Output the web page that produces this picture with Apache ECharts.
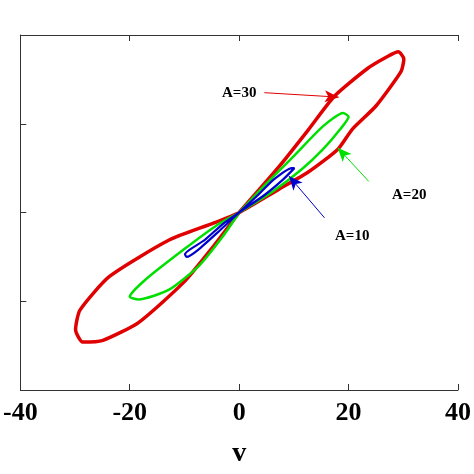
<!DOCTYPE html>
<html>
<head>
<meta charset="utf-8">
<script src="https://cdn.jsdelivr.net/npm/echarts@6/dist/echarts.min.js"></script>
<style>html,body{margin:0;padding:0;background:#fff}#main{width:474px;height:474px}</style>
</head>
<body>
<div id="main"></div>
<script>
// loop points: [v, i]
var loop30 = [[0,0],[7.2,0.51],[12.5,0.92],[17.4,1.31],[23.4,1.62],[27.2,1.76],[29.1,1.81],[30.1,1.73],[29.6,1.59],[25.0,1.20],[20.7,0.94],[18.0,0.71],[12.5,0.45],[7.2,0.26],[0,0],
    [-4.7,-0.12],[-12.8,-0.31],[-23.7,-0.72],[-29.1,-1.10],[-29.9,-1.32],[-28.6,-1.46],[-24.9,-1.44],[-18.4,-1.24],[-10.2,-0.79],[-4.7,-0.38],[0,0]];
var loop20 = [[0,0],[4.4,0.29],[9.9,0.63],[15.3,0.97],[19.0,1.12],[20.0,1.08],[18.5,0.94],[15.3,0.71],[11.5,0.49],[6.0,0.23],[0,0],
    [-4.0,-0.14],[-10.2,-0.42],[-17.2,-0.76],[-20.0,-0.95],[-18.4,-0.98],[-12.8,-0.87],[-7.5,-0.61],[-3.0,-0.27],[0,0]];
var loop10 = [[0,0],[3.5,0.2],[6.3,0.37],[9.6,0.5],[10.1,0.5],[8.0,0.37],[4.7,0.2],[0,0],
    [-3.0,-0.13],[-6.3,-0.31],[-9.9,-0.47],[-9.6,-0.5],[-7.5,-0.42],[-3.5,-0.2],[0,0]];

var myChart = echarts.init(document.getElementById('main'));
var font = 'Liberation Serif';

function arrow(from, to, color) {
    return {
        silent: true,
        symbol: ['none', 'arrow'],
        symbolSize: [9, 14],
        label: { show: false },
        lineStyle: { color: color, width: 1, type: 'solid' },
        data: [[{ coord: from }, { coord: to }]]
    };
}
function note(text, left, top) {
    return { type: 'text', left: left, top: top, style: { text: text, font: 'bold 15px "Liberation Serif"', fill: '#000' } };
}
var tickStyle = { inside: true, length: 6, lineStyle: { color: '#333' } };

var option = {
    animation: false,
    grid: { left: 0, top: 35, bottom: 84, right: -19 },
    xAxis: [{
        type: 'value', min: -40, max: 40, interval: 20,
        name: 'v', nameLocation: 'middle', nameGap: 50,
        nameTextStyle: { fontFamily: font, fontWeight: 'bold', fontSize: 28, color: '#000' },
        axisLine: { onZero: false, lineStyle: { color: '#333' } },
        axisTick: tickStyle,
        axisLabel: { fontFamily: font, fontWeight: 'bold', fontSize: 26, color: '#000', margin: 10 },
        splitLine: { show: false }
    }, {
        type: 'value', position: 'top', min: -40, max: 40, interval: 20,
        axisLine: { onZero: false, lineStyle: { color: '#333' } },
        axisTick: tickStyle,
        axisLabel: { show: false }, splitLine: { show: false }
    }],
    yAxis: {
        type: 'value', min: -2, max: 2, interval: 1, position: 'left',
        axisLine: { show: true, onZero: false, lineStyle: { color: '#333' } },
        axisTick: { show: true, inside: true, length: 6, lineStyle: { color: '#333' } },
        axisLabel: { show: false }, splitLine: { show: false }
    },
    series: [{
        type: 'line', data: loop30, smooth: 0.2, showSymbol: false,
        lineStyle: { color: '#e00000', width: 3.5 },
        markLine: arrow([4.6, 1.35], [18.2, 1.3], '#e00000')
    }, {
        type: 'line', data: loop20, smooth: 0.2, showSymbol: false,
        lineStyle: { color: '#00e000', width: 2.5 },
        markLine: arrow([23.7, 0.35], [18.0, 0.73], '#00e000')
    }, {
        type: 'line', data: loop10, smooth: 0.2, showSymbol: false,
        lineStyle: { color: '#0000cc', width: 2.2 },
        markLine: arrow([15.6, -0.06], [9.1, 0.41], '#0000cc')
    }],
    graphic: [note('A=30', 222, 86), note('A=20', 392, 188), note('A=10', 335, 229)]
};
myChart.setOption(option);
</script>
</body>
</html>
